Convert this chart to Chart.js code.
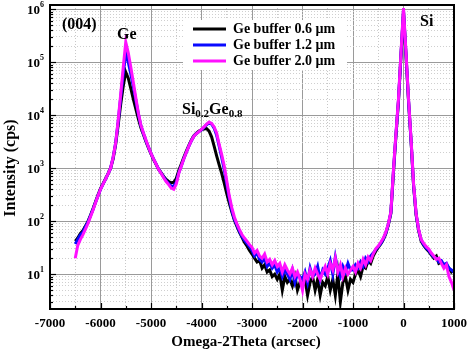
<!DOCTYPE html>
<html>
<head>
<meta charset="utf-8">
<script src="https://cdn.jsdelivr.net/npm/chart.js@4.4.0/dist/chart.umd.min.js"></script>
<style>
  html, body { margin: 0; padding: 0; background: #fff; }
</style>
</head>
<body>
<canvas id="xrd" width="474" height="353"></canvas>
<script>
// Omega-2Theta positions (arcsec)
const omega = [
  -6500, -6450, -6400, -6350, -6300, -6250, -6200, -6150, -6100, -6050,
  -6000, -5950, -5900, -5850, -5800, -5750, -5700, -5650, -5600, -5550,
  -5500, -5450, -5400, -5350, -5300, -5250, -5200, -5150, -5100, -5050,
  -5000, -4950, -4900, -4850, -4800, -4750, -4700, -4650, -4600, -4550,
  -4500, -4450, -4400, -4350, -4300, -4250, -4200, -4150, -4100, -4050,
  -4000, -3950, -3900, -3850, -3800, -3750, -3700, -3650, -3600, -3550,
  -3500, -3450, -3400, -3350, -3300, -3250, -3200, -3150, -3100, -3050,
  -3000, -2950, -2900, -2850, -2800, -2750, -2700, -2650, -2600, -2550,
  -2500, -2450, -2400, -2350, -2300, -2250, -2200, -2150, -2100, -2050,
  -2000, -1950, -1900, -1850, -1800, -1750, -1700, -1650, -1600, -1550,
  -1500, -1450, -1400, -1350, -1300, -1250, -1200, -1150, -1100, -1050,
  -1000, -950, -900, -850, -800, -750, -700, -650, -600, -550,
  -500, -450, -400, -350, -300, -250, -200, -150, -100, -50,
  0, 50, 100, 150, 200, 250, 300, 350, 400, 450,
  500, 550, 600, 650, 700, 750, 800, 850, 900, 950,
  1000
];

// Intensity (cps), Ge buffer 0.6 um
const buf06 = [
  42, 48, 58, 66, 80, 98, 128, 170, 230, 310,
  410, 510, 630, 790, 1000, 1500, 2800, 6500, 16000, 35000,
  65000, 50000, 32000, 20000, 13000, 8500, 5800, 4300, 3200, 2400,
  1850, 1450, 1180, 950, 820, 700, 610, 560, 530, 540,
  640, 900, 1200, 1600, 2100, 2700, 3400, 4100, 4600, 5000,
  5300, 5500, 5600, 5000, 3900, 2600, 1700, 1150, 800, 520,
  330, 220, 150, 105, 80, 62, 50, 40, 34, 28,
  24, 20, 17, 18, 13, 15, 11, 12, 9, 10,
  8, 10, 5, 9, 7, 8, 6, 9, 5, 7,
  6, 8, 4, 7, 9, 5, 8, 4, 7, 6,
  9, 5, 8, 4, 10, 3, 7, 9, 5, 8,
  7, 10, 12, 9, 14, 13, 18, 16, 22, 27,
  32, 37, 45, 58, 85, 140, 800, 4000, 18000, 130000,
  900000, 130000, 18000, 3200, 460, 130, 66, 42, 35, 30,
  27, 23, 20, 22, 16, 17, 14, 15, 13, 11,
  12
];

// Intensity (cps), Ge buffer 1.2 um
const buf12 = [
  37, 45, 55, 62, 78, 95, 125, 165, 225, 300,
  400, 500, 620, 780, 1000, 1600, 3000, 7500, 22000, 60000,
  150000, 100000, 60000, 35000, 19000, 10500, 6300, 4500, 3300, 2500,
  1900, 1500, 1200, 960, 810, 680, 580, 510, 460, 450,
  540, 820, 1100, 1500, 2000, 2600, 3300, 4000, 4500, 4900,
  5300, 5900, 6600, 7100, 6800, 5700, 4200, 2600, 1600, 950,
  500, 270, 160, 110, 85, 65, 52, 44, 38, 33,
  28, 22, 25, 19, 17, 20, 14, 16, 13, 15,
  11, 13, 9, 12, 10, 8, 12, 7, 10, 9,
  8, 11, 7, 13, 9, 10, 14, 8, 12, 10,
  13, 18, 10, 21, 12, 9, 14, 11, 16, 12,
  12, 15, 13, 17, 14, 20, 17, 22, 25, 29,
  33, 38, 46, 60, 88, 145, 850, 4300, 19000, 140000,
  950000, 140000, 19000, 3300, 480, 135, 68, 44, 36, 31,
  28, 24, 21, 20, 17, 18, 15, 16, 13, 12,
  11
];

// Intensity (cps), Ge buffer 2.0 um
const buf20 = [
  20, 35, 45, 55, 70, 90, 120, 160, 220, 300,
  400, 500, 620, 780, 1000, 1600, 3000, 8000, 25000, 80000,
  240000, 150000, 80000, 42000, 21000, 11000, 6500, 4600, 3400, 2500,
  1900, 1500, 1200, 950, 800, 660, 560, 490, 420, 400,
  500, 800, 1100, 1500, 2000, 2600, 3300, 4000, 4500, 4900,
  5400, 6000, 6800, 7400, 7000, 6000, 4600, 2800, 1800, 1100,
  580, 300, 180, 120, 90, 70, 56, 48, 42, 36,
  32, 25, 28, 22, 20, 24, 17, 19, 15, 18,
  14, 16, 11, 15, 12, 10, 13, 9, 11, 8,
  5, 10, 8, 12, 9, 13, 10, 8, 11, 14,
  10, 16, 12, 20, 11, 15, 9, 13, 10, 12,
  14, 11, 16, 13, 19, 15, 21, 18, 24, 30,
  34, 40, 48, 62, 90, 150, 900, 4500, 20000, 150000,
  1050000, 150000, 20000, 3500, 500, 140, 70, 45, 38, 33,
  30, 25, 22, 19, 20, 16, 13, 15, 9, 7,
  5
];

const seriesNames = ['Ge buffer 0.6 \u00b5m', 'Ge buffer 1.2 \u00b5m', 'Ge buffer 2.0 \u00b5m'];
const seriesColors = ['#000000', '#0a0aff', '#ff10ff'];
const xRange = [-7000, 1000];
const yRange = [2.2, 1.2e6];
const yExponents = ['0', '1', '2', '3', '4', '5', '6'];

const serif = '"Liberation Serif", "DejaVu Serif", serif';

function isDecade(v) {
  const l = Math.log10(v);
  return Math.abs(l - Math.round(l)) < 1e-9;
}

function toPoints(ys) {
  return omega.map((x, i) => ({ x: x, y: ys[i] }));
}

// frame, inward ticks, superscript tick labels, titles, annotations, legend
const decorations = {
  id: 'decorations',
  afterDraw(chart) {
    const ctx = chart.ctx;
    const a = chart.chartArea;
    const xs = chart.scales.x;
    const ys = chart.scales.y;
    ctx.save();
    ctx.strokeStyle = '#000';
    ctx.fillStyle = '#000';

    // inward ticks
    ctx.lineWidth = 1.2;
    xs.ticks.forEach(t => {
      const px = Math.round(xs.getPixelForValue(t.value)) + 0.5;
      const len = t.value % 1000 === 0 ? 6 : 3;
      ctx.beginPath();
      ctx.moveTo(px, a.bottom);
      ctx.lineTo(px, a.bottom - len);
      ctx.stroke();
    });
    ys.ticks.forEach(t => {
      const py = Math.round(ys.getPixelForValue(t.value)) + 0.5;
      const len = isDecade(t.value) ? 6 : 3;
      ctx.beginPath();
      ctx.moveTo(a.left, py);
      ctx.lineTo(a.left + len, py);
      ctx.stroke();
    });

    // frame
    ctx.lineWidth = 2;
    ctx.strokeRect(a.left, a.top, a.right - a.left, a.bottom - a.top);

    // y tick labels 10^n
    ys.ticks.forEach(t => {
      if (!isDecade(t.value)) return;
      const e = yExponents[Math.round(Math.log10(t.value))];
      const py = ys.getPixelForValue(t.value);
      ctx.font = 'bold 13px ' + serif;
      const w1 = ctx.measureText('10').width;
      ctx.font = 'bold 8px ' + serif;
      const w2 = ctx.measureText(e).width;
      const x0 = a.left - 6 - w1 - w2;
      ctx.textBaseline = 'middle';
      ctx.textAlign = 'left';
      ctx.font = 'bold 13px ' + serif;
      ctx.fillText('10', x0, py + 1);
      ctx.font = 'bold 8px ' + serif;
      ctx.fillText(e, x0 + w1, py - 4);
    });

    // axis titles
    ctx.font = 'bold 15px ' + serif;
    ctx.textAlign = 'center';
    ctx.textBaseline = 'middle';
    ctx.fillText('Omega-2Theta (arcsec)', 246, 342);
    ctx.save();
    ctx.translate(11, 168);
    ctx.rotate(-Math.PI / 2);
    ctx.font = 'bold 16px ' + serif;
    ctx.fillText('Intensity (cps)', 0, 0);
    ctx.restore();

    // annotations
    ctx.font = 'bold 16px ' + serif;
    ctx.textAlign = 'left';
    ctx.fillText('(004)', 62, 25);
    ctx.fillText('Ge', 117, 35);
    ctx.fillText('Si', 420, 22);
    let sx = 182;
    const sy = 110;
    [['Si', 16, 0], ['0.2', 11, 4], ['Ge', 16, 0], ['0.8', 11, 4]].forEach(p => {
      ctx.font = 'bold ' + p[1] + 'px ' + serif;
      ctx.fillText(p[0], sx, sy + p[2]);
      sx += ctx.measureText(p[0]).width;
    });

    // legend
    ctx.fillStyle = '#fff';
    ctx.fillRect(183, 20, 164, 50);
    const rows = [29, 45, 61];
    rows.forEach((ry, i) => {
      ctx.strokeStyle = seriesColors[i];
      ctx.lineWidth = 3;
      ctx.beginPath();
      ctx.moveTo(193, ry);
      ctx.lineTo(226, ry);
      ctx.stroke();
      ctx.fillStyle = '#000';
      ctx.font = 'bold 14px ' + serif;
      ctx.fillText(seriesNames[i], 233, ry);
    });
    ctx.restore();
  }
};

const drawOrder = [3, 2, 1];

new Chart(document.getElementById('xrd'), {
  type: 'line',
  data: {
    datasets: [buf06, buf12, buf20].map((ys, i) => ({
      label: seriesNames[i],
      data: toPoints(ys),
      borderColor: seriesColors[i],
      backgroundColor: seriesColors[i],
      borderWidth: 3,
      pointRadius: 0,
      tension: 0,
      fill: false,
      order: drawOrder[i]
    }))
  },
  options: {
    responsive: false,
    animation: false,
    devicePixelRatio: 1,
    layout: { padding: { top: 5, right: 15, left: 0, bottom: 0 } },
    plugins: { legend: { display: false }, tooltip: { enabled: false } },
    scales: {
      x: {
        type: 'linear',
        min: xRange[0],
        max: xRange[1],
        afterFit(scale) { scale.height = 44; },
        ticks: {
          stepSize: 500,
          autoSkip: false,
          maxRotation: 0,
          padding: 7,
          color: '#000',
          font: { family: serif, size: 13, weight: 'bold' },
          callback: v => (v % 1000 === 0 ? String(v) : '')
        },
        grid: {
          drawTicks: false,
          color: c => (c.tick && c.tick.value % 1000 === 0 ? '#9a9a9a' : '#c8c8c8'),
          lineWidth: 1
        },
        border: {
          display: false,
          dash: c => (c.tick && c.tick.value % 1000 === 0 ? [] : [1, 2])
        }
      },
      y: {
        type: 'logarithmic',
        min: yRange[0],
        max: yRange[1],
        afterFit(scale) { scale.width = 50; },
        afterBuildTicks(scale) {
          const t = [];
          for (let d = 0; d <= 6; d++) {
            for (let m = 1; m <= 9; m++) {
              const v = m * Math.pow(10, d);
              if (v >= yRange[0] && v <= yRange[1]) t.push({ value: v, major: m === 1 });
            }
          }
          scale.ticks = t;
        },
        ticks: { display: false, autoSkip: false },
        grid: {
          drawTicks: false,
          color: c => (c.tick && isDecade(c.tick.value) ? '#9a9a9a' : '#cfcfcf'),
          lineWidth: 1
        },
        border: {
          display: false,
          dash: c => (c.tick && isDecade(c.tick.value) ? [] : [1, 2])
        }
      }
    }
  },
  plugins: [decorations]
});
</script>
</body>
</html>
